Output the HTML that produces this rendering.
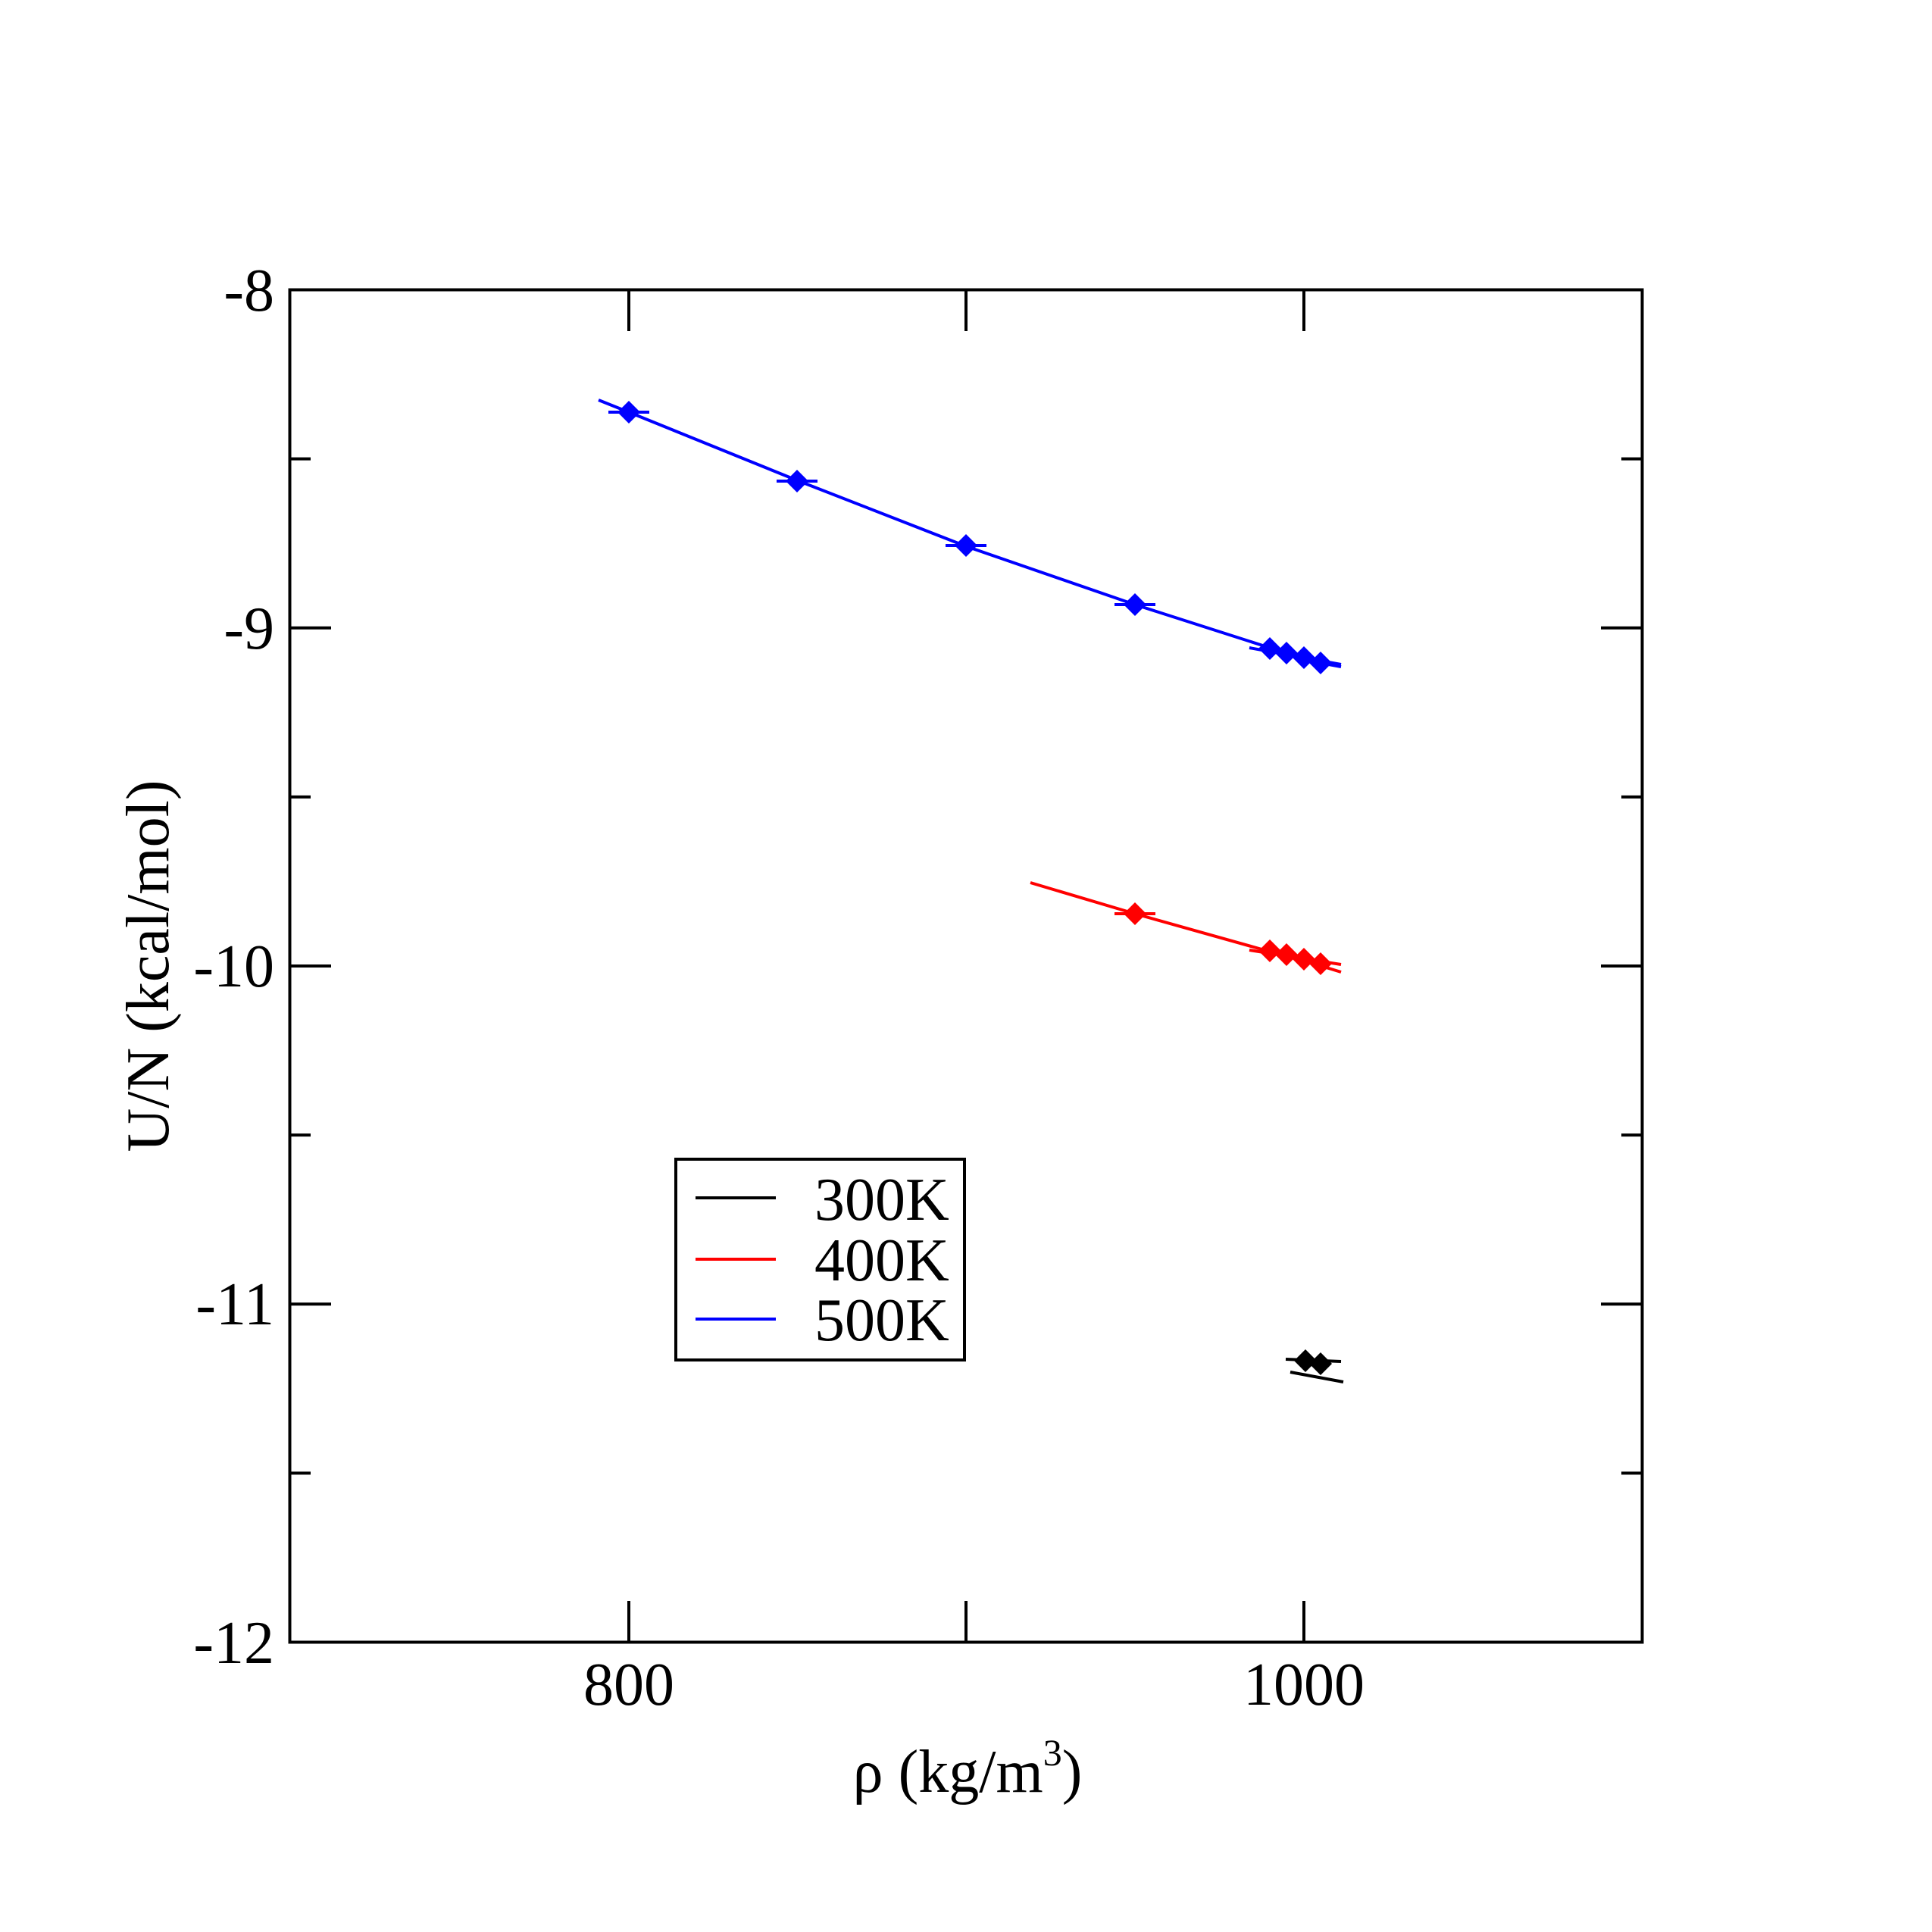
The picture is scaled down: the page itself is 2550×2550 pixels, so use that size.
<!DOCTYPE html>
<html><head><meta charset="utf-8"><style>html,body{margin:0;padding:0;background:#fff}svg{display:block}</style></head>
<body>
<svg width="2550" height="2550" viewBox="0 0 2550 2550" xmlns="http://www.w3.org/2000/svg" font-family="Liberation Serif, serif" font-size="80">
<rect width="2550" height="2550" fill="#fff"/>
<g stroke="#000" stroke-width="4">
<line x1="830" y1="2167.5" x2="830" y2="2113"/><line x1="830" y1="382.5" x2="830" y2="437"/>
<line x1="1275" y1="2167.5" x2="1275" y2="2113"/><line x1="1275" y1="382.5" x2="1275" y2="437"/>
<line x1="1721" y1="2167.5" x2="1721" y2="2113"/><line x1="1721" y1="382.5" x2="1721" y2="437"/>
<line x1="382.5" y1="828.75" x2="437" y2="828.75"/><line x1="2167.5" y1="828.75" x2="2113" y2="828.75"/>
<line x1="382.5" y1="1275" x2="437" y2="1275"/><line x1="2167.5" y1="1275" x2="2113" y2="1275"/>
<line x1="382.5" y1="1721.25" x2="437" y2="1721.25"/><line x1="2167.5" y1="1721.25" x2="2113" y2="1721.25"/>
<line x1="382.5" y1="605.6" x2="410" y2="605.6"/><line x1="2167.5" y1="605.6" x2="2140" y2="605.6"/>
<line x1="382.5" y1="1051.9" x2="410" y2="1051.9"/><line x1="2167.5" y1="1051.9" x2="2140" y2="1051.9"/>
<line x1="382.5" y1="1498.1" x2="410" y2="1498.1"/><line x1="2167.5" y1="1498.1" x2="2140" y2="1498.1"/>
<line x1="382.5" y1="1944.4" x2="410" y2="1944.4"/><line x1="2167.5" y1="1944.4" x2="2140" y2="1944.4"/>
</g>
<rect x="382.5" y="382.5" width="1785" height="1785" fill="none" stroke="#000" stroke-width="4"/>
<g text-anchor="end">
<text x="362" y="410">-8</text><text x="362" y="856">-9</text><text x="362" y="1302">-10</text>
<text x="362" y="1748">-11</text><text x="362" y="2195">-12</text>
</g>
<g text-anchor="middle">
<text x="830" y="2250">800</text><text x="1721" y="2250">1000</text>
<text x="1277" y="2365">ρ (kg/m<tspan dy="-35" font-size="50">3</tspan><tspan dy="35">)</tspan></text>
<text transform="translate(222,1275) rotate(-90)">U/N (kcal/mol)</text>
</g>
<g stroke="#0000ff" stroke-width="4" fill="none">
<polyline points="790,528 830,544 1052,634 1275,721 1498,798 1676,855 1698,861 1721,868 1743,875 1770,880"/>
<line x1="803" y1="544" x2="857" y2="544"/><line x1="1025" y1="635" x2="1079" y2="635"/>
<line x1="1248" y1="720" x2="1302" y2="720"/><line x1="1471" y1="798" x2="1525" y2="798"/>
<line x1="1649" y1="855" x2="1770" y2="877"/>
</g>
<g fill="#0000ff">
<path d="M830,529 l15,15 l-15,15 l-15,-15z"/><path d="M1052,620 l15,15 l-15,15 l-15,-15z"/>
<path d="M1275,705 l15,15 l-15,15 l-15,-15z"/><path d="M1498,783 l15,15 l-15,15 l-15,-15z"/>
<path d="M1676,841 l15,15 l-15,15 l-15,-15z"/><path d="M1698,847 l15,15 l-15,15 l-15,-15z"/>
<path d="M1721,853 l15,15 l-15,15 l-15,-15z"/><path d="M1743,860 l15,15 l-15,15 l-15,-15z"/>
</g>
<g stroke="#ff0000" stroke-width="4" fill="none">
<polyline points="1360,1165 1498,1206 1676,1256 1721,1268 1770,1283"/>
<line x1="1471" y1="1206" x2="1525" y2="1206"/><line x1="1649" y1="1254" x2="1770" y2="1273"/>
</g>
<g fill="#ff0000">
<path d="M1498,1191 l15,15 l-15,15 l-15,-15z"/><path d="M1676,1240 l15,15 l-15,15 l-15,-15z"/>
<path d="M1698,1245 l15,15 l-15,15 l-15,-15z"/><path d="M1721,1251 l15,15 l-15,15 l-15,-15z"/>
<path d="M1743,1257 l15,15 l-15,15 l-15,-15z"/>
</g>
<g stroke="#000" stroke-width="4" fill="none">
<line x1="1697" y1="1794" x2="1770" y2="1797"/>
<line x1="1703" y1="1811" x2="1773" y2="1824"/>
</g>
<g fill="#000">
<path d="M1723,1781 l15,15 l-15,15 l-15,-15z"/><path d="M1743,1785 l15,15 l-15,15 l-15,-15z"/>
</g>
<rect x="892" y="1530" width="381" height="265" fill="#fff" stroke="#000" stroke-width="4"/>
<line x1="918" y1="1581" x2="1024" y2="1581" stroke="#000" stroke-width="4"/>
<line x1="918" y1="1662" x2="1024" y2="1662" stroke="#ff0000" stroke-width="4"/>
<line x1="918" y1="1741" x2="1024" y2="1741" stroke="#0000ff" stroke-width="4"/>
<text x="1075" y="1610">300K</text><text x="1075" y="1690">400K</text><text x="1075" y="1769">500K</text>
</svg>
</body></html>
